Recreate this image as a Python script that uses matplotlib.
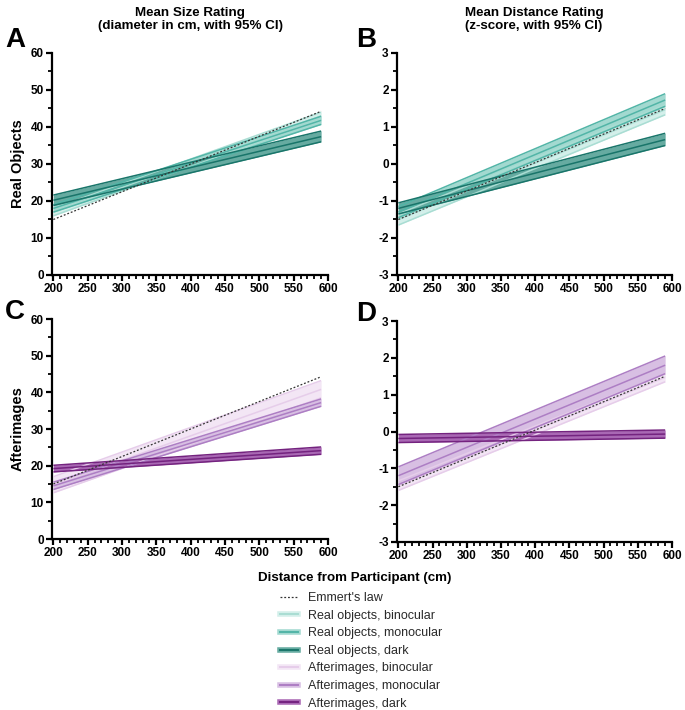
import matplotlib
matplotlib.use('Agg')
import matplotlib.pyplot as plt
from matplotlib.lines import Line2D
from matplotlib.ticker import MultipleLocator

plt.rcParams['font.family'] = ['Liberation Sans', 'DejaVu Sans']
plt.rcParams['axes.unicode_minus'] = False

# ---------------- data (values at the two ends of the fitted range) -------------
distance = [200, 590]

emmert_size = [15.0, 44.25]
emmert_z = [-1.5, 1.5]

# Size rating (cm) : centre, lower CI, upper CI
real_bin_size = [17.0, 43.0]
real_bin_size_lo = [16.0, 42.0]
real_bin_size_hi = [18.0, 44.0]
real_mono_size = [18.0, 41.8]
real_mono_size_lo = [17.0, 40.7]
real_mono_size_hi = [19.0, 42.9]
real_dark_size = [20.2, 37.4]
real_dark_size_lo = [18.8, 36.0]
real_dark_size_hi = [21.6, 38.9]

after_bin_size = [14.8, 40.8]
after_bin_size_lo = [12.6, 38.5]
after_bin_size_hi = [17.0, 43.2]
after_mono_size = [14.5, 37.2]
after_mono_size_lo = [13.5, 36.2]
after_mono_size_hi = [15.5, 38.2]
after_dark_size = [19.2, 24.1]
after_dark_size_lo = [18.3, 23.1]
after_dark_size_hi = [20.1, 25.1]

# Distance rating (z-score) : centre, lower CI, upper CI
real_bin_z = [-1.50, 1.47]
real_bin_z_lo = [-1.65, 1.33]
real_bin_z_hi = [-1.35, 1.60]
real_mono_z = [-1.30, 1.73]
real_mono_z_lo = [-1.45, 1.56]
real_mono_z_hi = [-1.15, 1.90]
real_dark_z = [-1.20, 0.66]
real_dark_z_lo = [-1.35, 0.50]
real_dark_z_hi = [-1.05, 0.83]

after_bin_z = [-1.47, 1.47]
after_bin_z_lo = [-1.60, 1.35]
after_bin_z_hi = [-1.34, 1.56]
after_mono_z = [-1.20, 1.80]
after_mono_z_lo = [-1.44, 1.57]
after_mono_z_hi = [-0.96, 2.05]
after_dark_z = [-0.19, -0.07]
after_dark_z_lo = [-0.30, -0.18]
after_dark_z_hi = [-0.08, 0.04]

labels = ["Emmert's law",
          "Real objects, binocular", "Real objects, monocular", "Real objects, dark",
          "Afterimages, binocular", "Afterimages, monocular", "Afterimages, dark"]

# (line colour, band colour)
col_real_bin = ('#a9ddd3', '#d3efea')
col_real_mono = ('#52b5a7', '#a2d9d0')
col_real_dark = ('#19756a', '#66aba1')
col_after_bin = ('#e6cdea', '#f3e6f5')
col_after_mono = ('#ad7ec4', '#d8bfe3')
col_after_dark = ('#74237f', '#a968b4')

W, H = 685, 710
fig = plt.figure(figsize=(W / 100, H / 100), dpi=100)


def px_axes(left, top, right, bottom):
    return fig.add_axes([left / W, 1 - bottom / H, (right - left) / W, (bottom - top) / H])


axA = px_axes(52, 53, 328, 275)
axB = px_axes(397, 53, 672, 275)
axC = px_axes(52, 319, 328, 539)
axD = px_axes(397, 321, 672, 542)


def band(ax, c, lo, hi, col):
    ax.fill_between(distance, lo, hi, color=col[1], lw=0, zorder=2)
    for v in (lo, hi, c):
        ax.plot(distance, v, color=col[0], lw=1.1, zorder=3, solid_capstyle='butt')


def emmert(ax, v):
    ax.plot(distance, v, color='#333333', lw=0.9, ls=(0, (1.5, 1.5)), zorder=5)


band(axA, real_bin_size, real_bin_size_lo, real_bin_size_hi, col_real_bin)
band(axA, real_mono_size, real_mono_size_lo, real_mono_size_hi, col_real_mono)
band(axA, real_dark_size, real_dark_size_lo, real_dark_size_hi, col_real_dark)
emmert(axA, emmert_size)

band(axB, real_bin_z, real_bin_z_lo, real_bin_z_hi, col_real_bin)
band(axB, real_mono_z, real_mono_z_lo, real_mono_z_hi, col_real_mono)
band(axB, real_dark_z, real_dark_z_lo, real_dark_z_hi, col_real_dark)
emmert(axB, emmert_z)

band(axC, after_bin_size, after_bin_size_lo, after_bin_size_hi, col_after_bin)
band(axC, after_mono_size, after_mono_size_lo, after_mono_size_hi, col_after_mono)
band(axC, after_dark_size, after_dark_size_lo, after_dark_size_hi, col_after_dark)
emmert(axC, emmert_size)

band(axD, after_bin_z, after_bin_z_lo, after_bin_z_hi, col_after_bin)
band(axD, after_mono_z, after_mono_z_lo, after_mono_z_hi, col_after_mono)
band(axD, after_dark_z, after_dark_z_lo, after_dark_z_hi, col_after_dark)
emmert(axD, emmert_z)

for ax, ylim, major, minor in [(axA, (0, 60), 10, 5), (axC, (0, 60), 10, 5),
                               (axB, (-3, 3), 1, 0.5), (axD, (-3, 3), 1, 0.5)]:
    ax.set_xlim(198, 600)
    ax.set_ylim(*ylim)
    ax.xaxis.set_major_locator(MultipleLocator(50))
    ax.xaxis.set_minor_locator(MultipleLocator(10))
    ax.yaxis.set_major_locator(MultipleLocator(major))
    ax.yaxis.set_minor_locator(MultipleLocator(minor))
    for s in ('top', 'right'):
        ax.spines[s].set_visible(False)
    for s in ('left', 'bottom'):
        ax.spines[s].set_linewidth(1.6)
    ax.tick_params(which='major', length=4.5, width=1.6, labelsize=8.5, pad=1.5)
    ax.tick_params(which='minor', length=3, width=1.3)
    for t in ax.get_xticklabels() + ax.get_yticklabels():
        t.set_fontweight('bold')
    ax.set_facecolor('none')

axA.set_ylabel('Real Objects', fontsize=10.5, fontweight='bold', labelpad=4)
axC.set_ylabel('Afterimages', fontsize=10.5, fontweight='bold', labelpad=4)

fig.text(190 / W, 1 - 19.5 / H, 'Mean Size Rating\n(diameter in cm, with 95% CI)',
         ha='center', va='center', fontsize=9.6, fontweight='bold', linespacing=1.1)
fig.text(534 / W, 1 - 19.5 / H, 'Mean Distance Rating\n(z-score, with 95% CI)',
         ha='center', va='center', fontsize=9.6, fontweight='bold', linespacing=1.1)

for lx, ly, letter in [(15, 40, 'A'), (366, 40, 'B'), (15, 312, 'C'), (366, 314, 'D')]:
    fig.text(lx / W, 1 - ly / H, letter, ha='center', va='center',
             fontsize=20, fontweight='bold')

fig.text(355 / W, 1 - 578 / H, 'Distance from Participant (cm)', ha='center',
         va='center', fontsize=9.6, fontweight='bold')

handles = [Line2D([], [], color='#333333', lw=0.9, ls=(0, (1.5, 1.5)))]
for col in (col_real_bin, col_real_mono, col_real_dark,
            col_after_bin, col_after_mono, col_after_dark):
    handles.append((Line2D([], [], color=col[1], lw=4.0),
                    Line2D([], [], color=col[0], lw=1.4)))

leg = fig.legend(handles, labels, loc='upper left',
                 bbox_to_anchor=(280 / W, 1 - 592 / H), frameon=False,
                 fontsize=9, handlelength=1.45, handletextpad=0.75,
                 labelspacing=0.45, borderpad=0, borderaxespad=0)
for t in leg.get_texts():
    t.set_color('#2a2a2a')

fig.savefig('out.png', dpi=100)
